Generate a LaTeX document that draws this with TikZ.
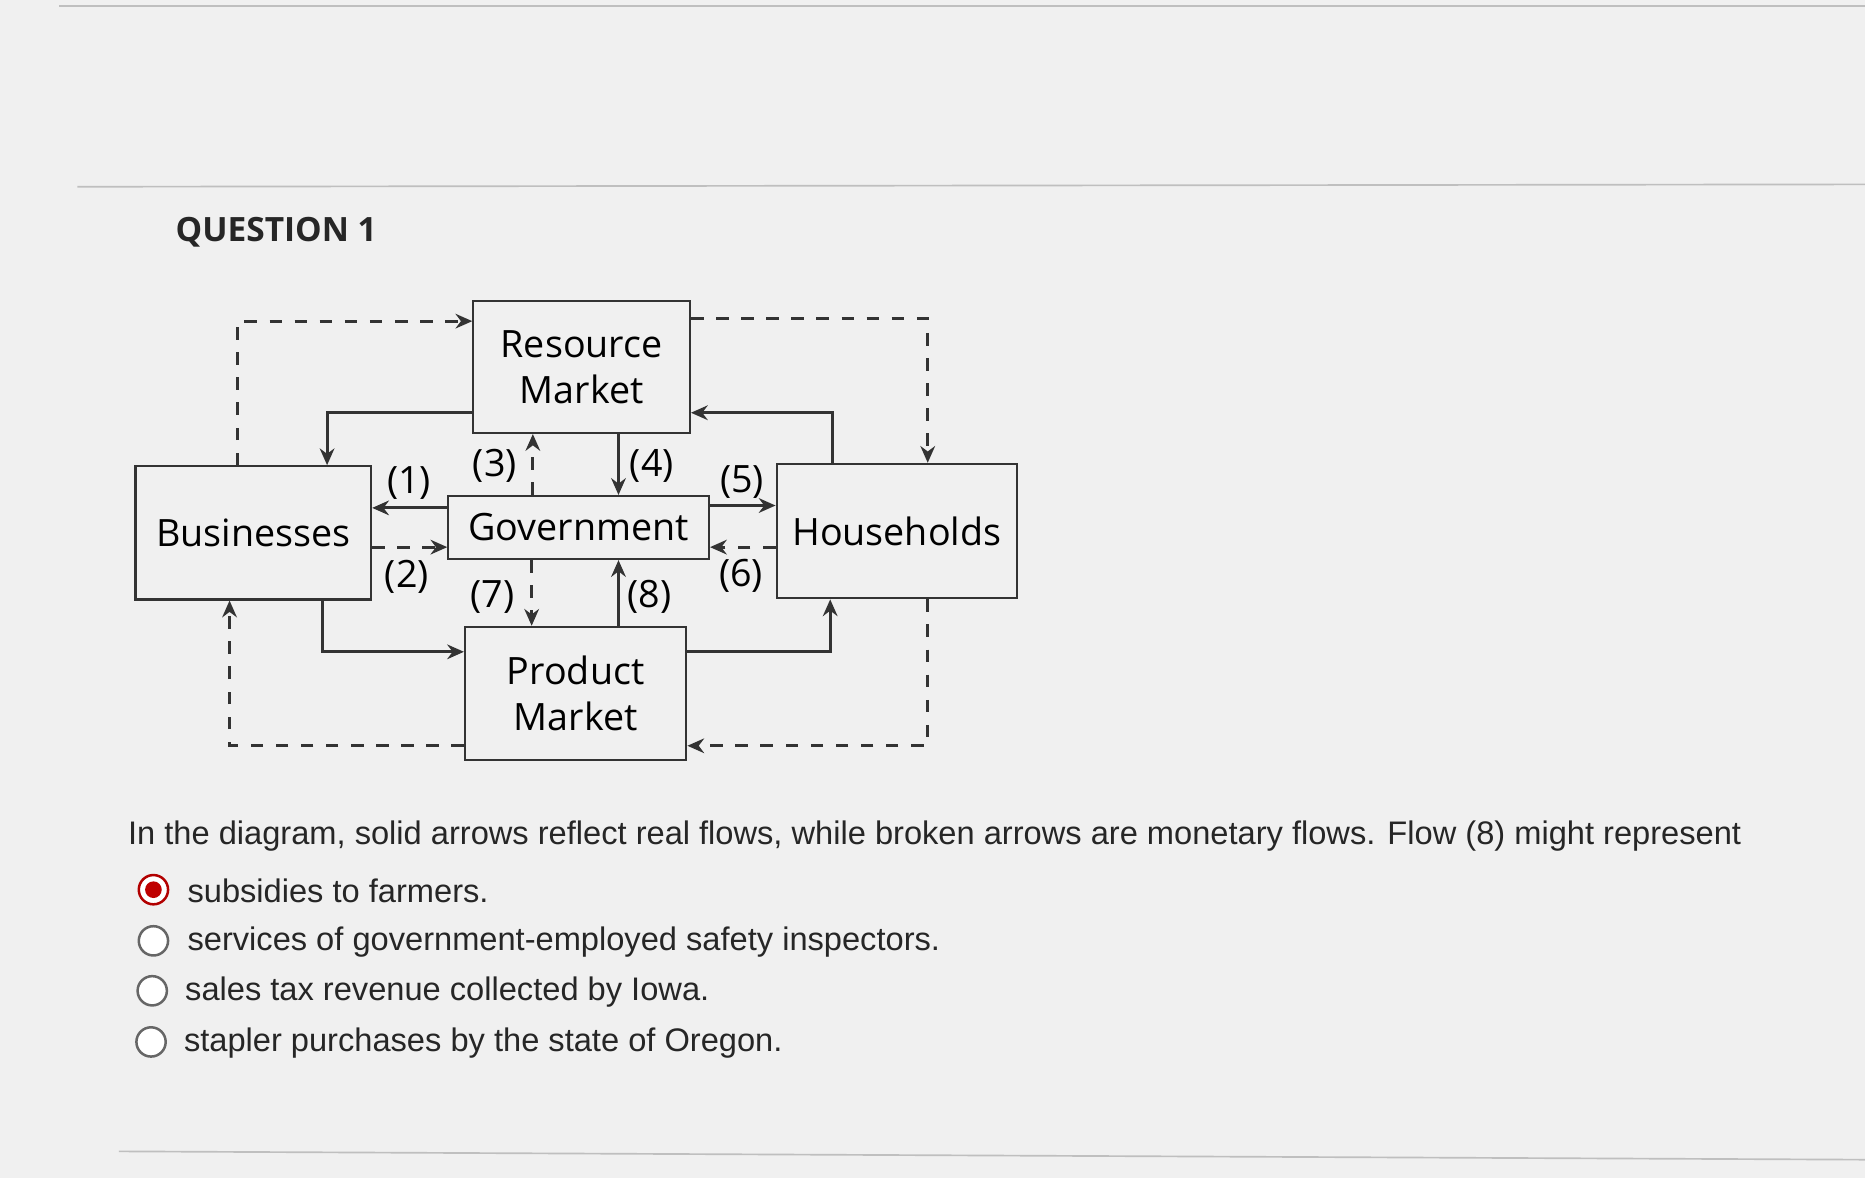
\documentclass[tikz,border=0pt]{standalone}
\usepackage{fontspec}
\setmainfont{Liberation Sans}
\newfontfamily\diag{Open Sans}
\usetikzlibrary{arrows.meta}
\begin{document}
\begin{tikzpicture}[x=0.01cm,y=-0.01cm,
  box/.style={draw=black!80,line width=0.5pt,inner sep=0pt,font=\diag\fontsize{9}{11}\selectfont,align=center},
  sol/.style={draw=black!80,line width=0.7pt,-{Stealth[length=4pt,width=3.5pt]}},
  dsh/.style={draw=black!80,line width=0.7pt,dash pattern=on 3pt off 3pt,-{Stealth[length=4pt,width=3.5pt]}},
  lab/.style={font=\diag\fontsize{9}{11}\selectfont},
  txt/.style={anchor=west,inner sep=0pt,font=\fontsize{7.8}{10}\selectfont,text=black!85},
  radio/.style={circle,draw=black!60,line width=0.6pt,minimum size=7pt,inner sep=0pt}]
\fill[black!6] (0,0) rectangle (1568,990);
\useasboundingbox (0,0) rectangle (1568,990);
\draw[black!25] (50,5) -- (1568,5);
\draw[black!25] (65,157) -- (1568,155);
\draw[black!25] (100,968) -- (1568,975);
\node[anchor=west,inner sep=0pt,font=\diag\bfseries\fontsize{8}{10}\selectfont,text=black!85] (q) at (147,195) {QUESTION 1};
% boxes
\node[box,minimum width=1.82cm,minimum height=1.11cm] (rm) at (489,308.5) {Resource\\Market};
\node[box,minimum width=1.98cm,minimum height=1.12cm] (bu) at (213,448) {Businesses};
\node[box,minimum width=2.19cm,minimum height=0.53cm] (go) at (486.5,443.5) {Government};
\node[box,minimum width=2.02cm,minimum height=1.13cm] (ho) at (754,446.5) {Households};
\node[box,minimum width=1.86cm,minimum height=1.12cm] (pm) at (484,583) {Product\\Market};
% helper coordinates
\foreach \v in {193,200,271,275,447,448,520,698,700,780}{\coordinate (x\v) at (\v,0);}
\foreach \v in {268,270,347,425,427,460,548,627}{\coordinate (y\v) at (0,\v);}
% outer flows
\draw[dsh] (bu.north -| x200) -- (x200 |- y270) -- (rm.west |- y270);
\draw[sol] (rm.west |- y347) -- (x275 |- y347) -- (bu.north -| x275);
\draw[sol] (ho.north -| x700) -- (x700 |- y347) -- (rm.east |- y347);
\draw[dsh] (rm.east |- y268) -- (x780 |- y268) -- (ho.north -| x780);
\draw[sol] (bu.south -| x271) -- (x271 |- y548) -- (pm.west |- y548);
\draw[sol] (pm.east |- y548) -- (x698 |- y548) -- (ho.south -| x698);
\draw[dsh] (pm.west |- y627) -- (x193 |- y627) -- (bu.south -| x193);
\draw[dsh] (ho.south -| x780) -- (x780 |- y627) -- (pm.east |- y627);
% government flows
\draw[sol] (go.west |- y427) -- (bu.east |- y427);
\draw[dsh] (bu.east |- y460) -- (go.west |- y460);
\draw[dsh] (go.north -| x448) -- (rm.south -| x448);
\draw[sol] (rm.south -| x520) -- (go.north -| x520);
\draw[sol] (go.east |- y425) -- (ho.west |- y425);
\draw[dsh] (ho.west |- y460) -- (go.east |- y460);
\draw[dsh] (go.south -| x447) -- (pm.north -| x447);
\draw[sol] (pm.north -| x520) -- (go.south -| x520);
\node[lab] (l1) at (344,406) {(1)};
\node[lab] (l2) at (342,485) {(2)};
\node[lab] (l3) at (416,392) {(3)};
\node[lab] (l4) at (548,392) {(4)};
\node[lab] (l5) at (624,405) {(5)};
\node[lab] (l6) at (623,484) {(6)};
\node[lab] (l7) at (414,502) {(7)};
\node[lab] (l8) at (546,502) {(8)};
% question
\node[txt] (t0) at (107,703) {In the diagram, solid arrows reflect real flows, while broken arrows are monetary flows. Flow (8) might represent};
\node[radio,draw=red!70!black,fill=white] (r1) at (129,748) {};
\fill[red!75!black] (r1) circle (7);
\node[radio,fill=white] (r2) at (129,791) {};
\node[radio,fill=white] (r3) at (128,833) {};
\node[radio,fill=white] (r4) at (127,876) {};
\node[txt] (a1) at (157,749) {subsidies to farmers.};
\node[txt] (a2) at (157,792) {services of government-employed safety inspectors.};
\node[txt] (a3) at (155,834) {sales tax revenue collected by Iowa.};
\node[txt] (a4) at (154,877) {stapler purchases by the state of Oregon.};
\end{tikzpicture}
\end{document}
